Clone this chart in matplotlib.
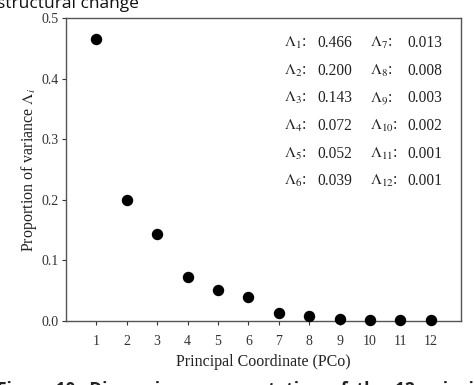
import matplotlib
matplotlib.use('Agg')
import matplotlib.pyplot as plt

# Данные: доля дисперсии по главным координатам
pco = [1, 2, 3, 4, 5, 6, 7, 8, 9, 10, 11, 12]
variance = [0.466, 0.200, 0.143, 0.072, 0.052, 0.039,
            0.013, 0.008, 0.003, 0.002, 0.001, 0.001]
labels_left = ['0.466', '0.200', '0.143', '0.072', '0.052', '0.039']
labels_right = ['0.013', '0.008', '0.003', '0.002', '0.001', '0.001']
y_ticks = [0.0, 0.1, 0.2, 0.3, 0.4, 0.5]

plt.rcParams['font.family'] = ['Liberation Serif', 'DejaVu Serif']
plt.rcParams['mathtext.fontset'] = 'stix'

fig = plt.figure(figsize=(4.74, 3.85), dpi=100)
ax = fig.add_axes([0.139, 0.166, 0.834, 0.787])

ax.scatter(pco, variance, s=52, color='black', zorder=3, clip_on=False)

ax.set_xlim(0, 13)
ax.set_ylim(0, 0.5)
ax.set_xticks(pco)
ax.set_yticks(y_ticks)
ax.set_yticklabels([f'{v:.1f}' for v in y_ticks])
ax.tick_params(axis='both', direction='out', length=3, width=0.8,
               labelsize=10, colors='#333333', pad=2)
ax.tick_params(axis='x', pad=7)
for sp in ax.spines.values():
    sp.set_color('#555555')
    sp.set_linewidth(1.0)

ax.set_xlabel('Principal Coordinate (PCo)', fontsize=11.5, color='#222222', labelpad=4)
ax.set_ylabel(r'Proportion of variance $\Lambda_i$', fontsize=11.5, color='#222222', labelpad=2)

# Таблица значений (в долях осей)
for i in range(6):
    y = 0.917 - i * 0.091
    kw = dict(transform=ax.transAxes, fontsize=11.2, va='center', color='#222222')
    ax.text(0.552, y, r'$\Lambda_{%d}$:' % (i + 1), **kw)
    ax.text(0.635, y, labels_left[i], **kw)
    ax.text(0.770, y, r'$\Lambda_{%d}$:' % (i + 7), **kw)
    ax.text(0.863, y, labels_right[i], **kw)

# Обрезанные подписи страницы
fig.text(-0.006, 0.979, 'structural change', fontsize=12.5, family='Open Sans',
         va='baseline', color='#111111')
fig.text(-0.006, -0.026, 'Figure 10.  Dimension  representation  of  the  12  principal',
         fontsize=12.5, family='Open Sans', fontweight='bold', va='baseline', color='#222222')

fig.savefig('out.png', dpi=100)
